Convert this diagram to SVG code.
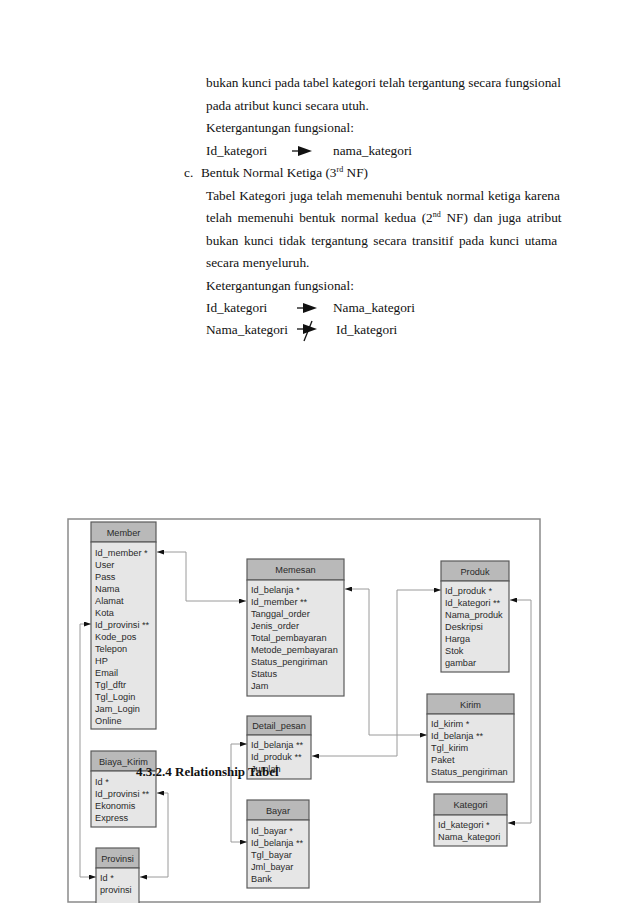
<svg xmlns="http://www.w3.org/2000/svg" width="638" height="903" viewBox="0 0 638 903">
<defs>
<style>
.p{font-family:"Liberation Serif","Times New Roman",serif;font-size:13.3px;fill:#111}
.ttl{font-family:"Liberation Serif","Times New Roman",serif;font-size:13px;font-weight:bold;fill:#111}
.t{font-family:"Liberation Sans",Arial,sans-serif;font-size:9.2px;fill:#2a2a2a}
.h{text-anchor:middle}
.hd{fill:#b9b9b9;stroke:#5a5a5a;stroke-width:1.2}
.bd{fill:#e6e6e6;stroke:#5a5a5a;stroke-width:1.2}
.conn{fill:none;stroke:#9a9a9a;stroke-width:1}
.frame{fill:none;stroke:#8a8a8a;stroke-width:1.5}
.fd{stroke:#111;stroke-width:1.3;fill:none}
</style>
<marker id="ah" viewBox="0 0 7 5" refX="7" refY="2.5" markerWidth="7" markerHeight="5" markerUnits="userSpaceOnUse" orient="auto-start-reverse">
<path d="M0,0L7,2.5L0,5z" fill="#111"/>
</marker>
</defs>
<rect width="638" height="903" fill="#fff"/>

<g id="paragraph">
<text class="p" x="206" y="87" word-spacing="0">bukan kunci pada tabel kategori telah tergantung secara fungsional</text>
<text class="p" x="206" y="109.5">pada atribut kunci secara utuh.</text>
<text class="p" x="206" y="132">Ketergantungan fungsional:</text>
<text class="p" x="206" y="154.5">Id_kategori</text>
<g class="fd"><path d="M292,151h8"/><path d="M298,146L312,151L298,156z" fill="#111" stroke="none"/></g>
<text class="p" x="333" y="154.5">nama_kategori</text>
<text class="p" x="184" y="177">c.</text>
<text class="p" x="201" y="177">Bentuk Normal Ketiga (3<tspan font-size="8" dy="-5">rd</tspan><tspan dy="5"> NF)</tspan></text>
<text class="p" x="206" y="199.5" word-spacing="0.6">Tabel Kategori juga telah memenuhi bentuk normal ketiga karena</text>
<text class="p" x="206" y="222" word-spacing="2.3">telah memenuhi bentuk normal kedua (2<tspan font-size="8" dy="-5">nd</tspan><tspan dy="5"> NF) dan juga atribut</tspan></text>
<text class="p" x="206" y="244.5" word-spacing="2.2">bukan kunci tidak tergantung secara transitif pada kunci utama</text>
<text class="p" x="206" y="267">secara menyeluruh.</text>
<text class="p" x="206" y="289.5">Ketergantungan fungsional:</text>
<text class="p" x="206" y="312">Id_kategori</text>
<g class="fd"><path d="M297,308h8"/><path d="M303,303L317,308L303,313z" fill="#111" stroke="none"/></g>
<text class="p" x="333" y="312">Nama_kategori</text>
<text class="p" x="206" y="334">Nama_kategori</text>
<g class="fd"><path d="M297,329h8"/><path d="M303,324L317,329L303,334z" fill="#111" stroke="none"/><path d="M312,321L304,341"/></g>
<text class="p" x="336" y="334">Id_kategori</text>
</g>

<rect class="frame" x="68" y="519" width="472" height="383"/>

<g id="connectors">
<path class="conn" d="M157,552H186V601H246" marker-start="url(#ah)" marker-end="url(#ah)"/>
<path class="conn" d="M91,624H80V877H96" marker-start="url(#ah)" marker-end="url(#ah)"/>
<path class="conn" d="M157,793H168V877H140" marker-start="url(#ah)" marker-end="url(#ah)"/>
<path class="conn" d="M345,589H369V735H427" marker-start="url(#ah)" marker-end="url(#ah)"/>
<path class="conn" d="M441,590H397V756H312" marker-start="url(#ah)" marker-end="url(#ah)"/>
<path class="conn" d="M510,600H531V823H508" marker-start="url(#ah)" marker-end="url(#ah)"/>
<path class="conn" d="M247,744H231V842H247" marker-start="url(#ah)" marker-end="url(#ah)"/>
</g>

<g id="member">
<rect class="hd" x="91" y="522" width="65" height="20"/>
<rect class="bd" x="91" y="542" width="65" height="187"/>
<text class="t h" x="123.5" y="535.5">Member</text>
<text class="t" x="95" y="555.5"><tspan>Id_member *</tspan><tspan x="95" dy="12">User</tspan><tspan x="95" dy="12">Pass</tspan><tspan x="95" dy="12">Nama</tspan><tspan x="95" dy="12">Alamat</tspan><tspan x="95" dy="12">Kota</tspan><tspan x="95" dy="12">Id_provinsi **</tspan><tspan x="95" dy="12">Kode_pos</tspan><tspan x="95" dy="12">Telepon</tspan><tspan x="95" dy="12">HP</tspan><tspan x="95" dy="12">Email</tspan><tspan x="95" dy="12">Tgl_dftr</tspan><tspan x="95" dy="12">Tgl_Login</tspan><tspan x="95" dy="12">Jam_Login</tspan><tspan x="95" dy="12">Online</tspan></text>
</g>

<g id="memesan">
<rect class="hd" x="247" y="559" width="97" height="21"/>
<rect class="bd" x="247" y="580" width="97" height="116"/>
<text class="t h" x="295.5" y="573">Memesan</text>
<text class="t" x="251" y="592.5"><tspan>Id_belanja *</tspan><tspan x="251" dy="12">Id_member **</tspan><tspan x="251" dy="12">Tanggal_order</tspan><tspan x="251" dy="12">Jenis_order</tspan><tspan x="251" dy="12">Total_pembayaran</tspan><tspan x="251" dy="12">Metode_pembayaran</tspan><tspan x="251" dy="12">Status_pengiriman</tspan><tspan x="251" dy="12">Status</tspan><tspan x="251" dy="12">Jam</tspan></text>
</g>

<g id="produk">
<rect class="hd" x="441" y="561" width="68" height="20"/>
<rect class="bd" x="441" y="581" width="68" height="91"/>
<text class="t h" x="475" y="574.5">Produk</text>
<text class="t" x="445" y="593.5"><tspan>Id_produk *</tspan><tspan x="445" dy="12">Id_kategori **</tspan><tspan x="445" dy="12">Nama_produk</tspan><tspan x="445" dy="12">Deskripsi</tspan><tspan x="445" dy="12">Harga</tspan><tspan x="445" dy="12">Stok</tspan><tspan x="445" dy="12">gambar</tspan></text>
</g>

<g id="kirim">
<rect class="hd" x="427" y="694" width="87" height="20"/>
<rect class="bd" x="427" y="714" width="87" height="68"/>
<text class="t h" x="470.5" y="707.5">Kirim</text>
<text class="t" x="431" y="726.5"><tspan>Id_kirim *</tspan><tspan x="431" dy="12">Id_belanja **</tspan><tspan x="431" dy="12">Tgl_kirim</tspan><tspan x="431" dy="12">Paket</tspan><tspan x="431" dy="12">Status_pengiriman</tspan></text>
</g>

<g id="kategori">
<rect class="hd" x="434" y="794" width="73" height="21"/>
<rect class="bd" x="434" y="815" width="73" height="31"/>
<text class="t h" x="470.5" y="808">Kategori</text>
<text class="t" x="438" y="827.5"><tspan>Id_kategori *</tspan><tspan x="438" dy="12">Nama_kategori</tspan></text>
</g>

<g id="detail_pesan">
<rect class="hd" x="247" y="716" width="64" height="19"/>
<rect class="bd" x="247" y="735" width="64" height="44"/>
<text class="t h" x="279" y="729">Detail_pesan</text>
<text class="t" x="251" y="747.5"><tspan>Id_belanja **</tspan><tspan x="251" dy="12">Id_produk **</tspan><tspan x="251" dy="12">Jumlah</tspan></text>
</g>

<g id="bayar">
<rect class="hd" x="247" y="800" width="62" height="20"/>
<rect class="bd" x="247" y="820" width="62" height="68"/>
<text class="t h" x="278" y="813.5">Bayar</text>
<text class="t" x="251" y="833.5"><tspan>Id_bayar *</tspan><tspan x="251" dy="12">Id_belanja **</tspan><tspan x="251" dy="12">Tgl_bayar</tspan><tspan x="251" dy="12">Jml_bayar</tspan><tspan x="251" dy="12">Bank</tspan></text>
</g>

<g id="biaya_kirim">
<rect class="hd" x="91" y="751" width="65" height="20"/>
<rect class="bd" x="91" y="771" width="65" height="56"/>
<text class="t h" x="123.5" y="764.5">Biaya_Kirim</text>
<text class="t" x="95" y="784.5"><tspan>Id *</tspan><tspan x="95" dy="12">Id_provinsi **</tspan><tspan x="95" dy="12">Ekonomis</tspan><tspan x="95" dy="12">Express</tspan></text>
</g>

<g id="provinsi">
<rect class="hd" x="96" y="848" width="43" height="20"/>
<rect class="bd" x="96" y="868" width="43" height="36"/>
<text class="t h" x="117.5" y="861.5">Provinsi</text>
<text class="t" x="100" y="880.5"><tspan>Id *</tspan><tspan x="100" dy="12.5">provinsi</tspan></text>
</g>

<text class="ttl" x="136" y="776">4.3.2.4 Relationship Tabel</text>
</svg>
